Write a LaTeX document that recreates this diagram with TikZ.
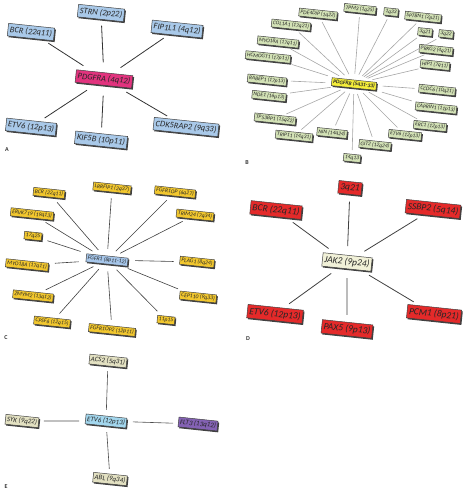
\documentclass[tikz,border=0pt]{standalone}
\usepackage{fontspec}
\setmainfont{Carlito}
\usetikzlibrary{shadows}
\definecolor{ablue}{HTML}{A9C9E9}
\definecolor{amag}{HTML}{E2337E}
\definecolor{bgreen}{HTML}{D3E2B6}
\definecolor{byel}{HTML}{F5EE3A}
\definecolor{cyel}{HTML}{F2C72E}
\definecolor{cblue}{HTML}{A6C6EA}
\definecolor{dred}{HTML}{E42A2A}
\definecolor{dcream}{HTML}{F1F1D8}
\definecolor{ekhaki}{HTML}{E3E1C2}
\definecolor{ecyan}{HTML}{A3D7EE}
\definecolor{epurp}{HTML}{8462B4}
\begin{document}
\begin{tikzpicture}[x=1pt,y=-1pt,
  gbox/.style={draw=black!75, line width=0.5pt, rotate=-6, inner xsep=2pt, inner ysep=2pt,
    text=black!85, drop shadow={shadow xshift=1.2pt,shadow yshift=-1.4pt,fill=black!75,opacity=1}},
  abox/.style={gbox, fill=ablue, font=\fontsize{8.5}{9}\selectfont\itshape, inner ysep=2.5pt},
  bbox/.style={gbox, fill=bgreen, font=\fontsize{5.5}{6}\selectfont\itshape, inner xsep=1.5pt, inner ysep=1.5pt},
  cbox/.style={gbox, fill=cyel, font=\fontsize{5.7}{6}\selectfont\itshape, inner xsep=1.5pt, inner ysep=1.5pt},
  dbox/.style={gbox, fill=dred, font=\fontsize{9.5}{10}\selectfont\itshape, inner ysep=2.5pt},
  ebox/.style={gbox, fill=ekhaki, font=\fontsize{7}{8}\selectfont\itshape, inner xsep=1.5pt, inner ysep=1.8pt},
  alink/.style={draw=black!80, line width=0.8pt, shorten <=6pt, shorten >=10pt},
  blink/.style={draw=black!35, line width=0.6pt, shorten <=4pt, shorten >=6pt},
  clink/.style={draw=black!75, line width=0.6pt, shorten <=6pt, shorten >=7pt},
  dlink/.style={draw=black!75, line width=0.8pt, shorten <=7pt, shorten >=9pt},
  elink/.style={draw=black!70, line width=0.6pt, shorten <=5pt, shorten >=6pt},
  plabel/.style={font=\fontsize{6}{7}\selectfont\bfseries, text=black!80}
]
\useasboundingbox (0,0) rectangle (471,500);

% ---------- Panel A ----------
\node[abox, fill=amag] (a0) at (104,79) {PDGFRA (4q12)};
\node[abox] (a1) at (101,13) {STRN (2p22)};
\node[abox] (a2) at (31,32) {BCR (22q11)};
\node[abox] (a3) at (177,29) {FIP1L1 (4q12)};
\node[abox] (a4) at (31,127) {ETV6 (12p13)};
\node[abox] (a5) at (101,140) {KIF5B (10p11)};
\node[abox] (a6) at (186,127) {CDK5RAP2 (9q33)};
\foreach \n in {a1,a2,a3,a4,a5,a6} \draw[alink] (\n) -- (a0);
\node[plabel] (la) at (7,150) {A};

% ---------- Panel B ----------
\node[bbox, fill=byel, font=\fontsize{5.5}{6}\selectfont\bfseries\itshape] (b0) at (354,84) {PDGFRB (5q31-33)};
\node[bbox] (b1) at (318,14) {PDE4DIP (1q22)};
\node[bbox] (b2) at (360,9) {TPM3 (1q25)};
\node[bbox] (b3) at (391,12) {1q33};
\node[bbox] (b4) at (423,17) {SPTBN1 (2p21)};
\node[bbox] (b5) at (425,32) {3q21};
\node[bbox] (b6) at (446,34) {3q22};
\node[bbox] (b7) at (436,50) {PRKG2 (4q21)};
\node[bbox] (b8) at (435,65) {HIP1 (7q11)};
\node[bbox] (b9) at (437,90) {CCDC6 (10q21)};
\node[bbox] (b10) at (436,108) {CAPRIN1 (11p13)};
\node[bbox] (b11) at (430,126) {ERC1 (12p13)};
\node[bbox] (b12) at (405,135) {ETV6 (12p13)};
\node[bbox] (b13) at (375,145) {GIT2 (12q24)};
\node[bbox] (b14) at (352,158) {14q13};
\node[bbox] (b15) at (332,133) {NIN (14q24)};
\node[bbox] (b16) at (294,136) {TRIP11 (14q31)};
\node[bbox] (b17) at (275,119) {TP53BP1 (15q22)};
\node[bbox] (b18) at (269,96) {NDE1 (16p13)};
\node[bbox] (b19) at (267,80) {RABEP1 (17p13)};
\node[bbox] (b20) at (268,57) {HCMOGT1 (17p11)};
\node[bbox] (b21) at (278,42) {MYO18A (17q11)};
\node[bbox] (b22) at (291,25) {COL1A1 (17q21)};
\foreach \i in {1,...,22} \draw[blink] (b\i) -- (b0);
\node[plabel] (lb) at (247,163) {B};

% ---------- Panel C ----------
\node[cbox, fill=cblue] (c0) at (107,260) {FGFR1 (8p11-12)};
\node[cbox] (c1) at (49,193) {BCR (22q11)};
\node[cbox] (c2) at (112,188) {LRRFIP1 (2q37)};
\node[cbox] (c3) at (175,192) {FGFR1OP (6q27)};
\node[cbox] (c4) at (32,214) {ERVK719 (19q13)};
\node[cbox] (c5) at (195,215) {TRIM24 (7q34)};
\node[cbox] (c6) at (33,236) {17q25};
\node[cbox] (c7) at (27,265) {MYO18A (17q11)};
\node[cbox] (c8) at (197,262) {PLAG1 (8q24)};
\node[cbox] (c9) at (33,296) {ZMYM2 (13q12)};
\node[cbox] (c10) at (198,297) {CEP110 (9q33)};
\node[cbox] (c11) at (52,322) {CPSF6 (12q15)};
\node[cbox] (c12) at (112,330) {FGFR1OP2 (12p11)};
\node[cbox] (c13) at (166,320) {11p15};
\foreach \i in {1,...,13} \draw[clink] (c\i) -- (c0);
\node[plabel] (lc) at (6,338) {C};

% ---------- Panel D ----------
\node[dbox, fill=dcream] (d0) at (347,262) {JAK2 (9p24)};
\node[dbox] (d1) at (276,210) {BCR (22q11)};
\node[dbox] (d2) at (350,188) {3q21};
\node[dbox] (d3) at (433,209) {SSBP2 (5q14)};
\node[dbox] (d4) at (275,314) {ETV6 (12p13)};
\node[dbox] (d5) at (347,329) {PAX5 (9p13)};
\node[dbox] (d6) at (434,314) {PCM1 (8p21)};
\foreach \i in {1,...,6} \draw[dlink] (d\i) -- (d0);
\node[plabel] (ld) at (248,339) {D};

% ---------- Panel E ----------
\node[ebox, fill=ecyan] (e0) at (106,421) {ETV6 (12p13)};
\node[ebox] (e1) at (108,361) {ACS2 (5q31)};
\node[ebox] (e2) at (22,421) {SYK (9q22)};
\node[ebox, fill=epurp] (e3) at (198,424) {FLT3 (13q12)};
\node[ebox] (e4) at (110,479) {ABL (9q34)};
\foreach \i in {1,...,4} \draw[elink] (e\i) -- (e0);
\node[plabel] (le) at (6,487) {E};
\end{tikzpicture}
\end{document}
